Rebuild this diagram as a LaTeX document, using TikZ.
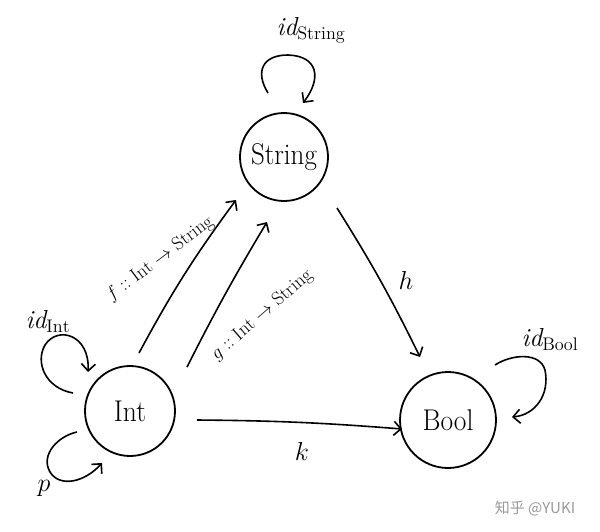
\RequirePackage{fix-cm}
\documentclass[tikz,border=0pt]{standalone}
\usepackage{fontspec}
\setmainfont{Latin Modern Roman}
\newfontfamily\cjk{Noto Sans CJK SC}
\usetikzlibrary{arrows.meta}
\begin{document}
\begin{tikzpicture}[x=1pt,y=-1pt,
  obj/.style={draw,circle,line width=1.8pt,inner sep=0pt},
  arr/.style={line width=1.6pt,-{Straight Barb[length=7pt,width=14pt,line width=1.6pt]}},
  lbl/.style={font=\fontsize{20}{24}\selectfont,scale=1.3,transform shape},
  big/.style={font=\fontsize{25}{30}\selectfont}]
\useasboundingbox (0,0) rectangle (600,531);
\node[obj,minimum size=88pt,big] (string) at (284,157) {\scalebox{1.08}[1.2]{String}};
\node[obj,minimum size=90pt,big] (int) at (130,411) {\scalebox{1.1}[1.2]{Int}};
\node[obj,minimum size=96pt,big] (bool) at (448,420) {\scalebox{1.1}[1.2]{Bool}};
% connector end points
\coordinate (fs) at (139,353); \coordinate (fe) at (236,200);
\coordinate (gs) at (187,367); \coordinate (ge) at (267,222);
\coordinate (hs) at (337,208); \coordinate (he) at (420,357);
\coordinate (ks) at (197,420); \coordinate (ke) at (402,429);
\draw[arr] (fs) to[bend left=4] (fe);
\draw[arr] (gs) to[bend left=2] (ge);
\draw[arr] (hs) to[bend left=3] (he);
\draw[arr] (ks) to[bend left=2] (ke);
\node[rotate=37,font=\fontsize{18}{22}\selectfont,scale=1.05,transform shape] (fl) at (160,259) {$f::\mathrm{Int}\rightarrow\mathrm{String}$};
\node[rotate=41,font=\fontsize{18}{22}\selectfont,scale=1.05,transform shape] (gl) at (262,315) {$g::\mathrm{Int}\rightarrow\mathrm{String}$};
\node[lbl] (hl) at (406,280) {$h$};
\node[lbl] (kl) at (302,451) {$k$};
% loops
\coordinate (ls1) at (268,93); \coordinate (le1) at (303,103);
\draw[arr] (ls1) .. controls (255,72) and (262,55) .. (288,55) .. controls (318,56) and (322,78) .. (le1);
\node[lbl] (idsl) at (311,30) {$\mathit{id}_{\mathrm{String}}$};
\coordinate (ls2) at (73,393); \coordinate (le2) at (88,372);
\draw[arr] (ls2) .. controls (45,388) and (35,362) .. (45,345) .. controls (58,325) and (90,335) .. (le2);
\node[lbl] (idil) at (48,322) {$\mathit{id}_{\mathrm{Int}}$};
\coordinate (ls3) at (77,432); \coordinate (le3) at (102,463);
\draw[arr] (ls3) .. controls (58,436) and (40,455) .. (50,472) .. controls (60,488) and (85,482) .. (le3);
\node[lbl] (pl) at (44,488) {$p$};
\coordinate (ls4) at (495,365); \coordinate (le4) at (512,417);
\draw[arr] (ls4) .. controls (512,354) and (540,352) .. (545,370) .. controls (550,395) and (535,415) .. (le4);
\node[lbl] (idbl) at (550,340) {$\mathit{id}_{\mathrm{Bool}}$};
\node[font=\cjk\fontsize{15}{18}\selectfont,text=black!40] (wm) at (535,508) {知乎 @YUKI};
\end{tikzpicture}
\end{document}
